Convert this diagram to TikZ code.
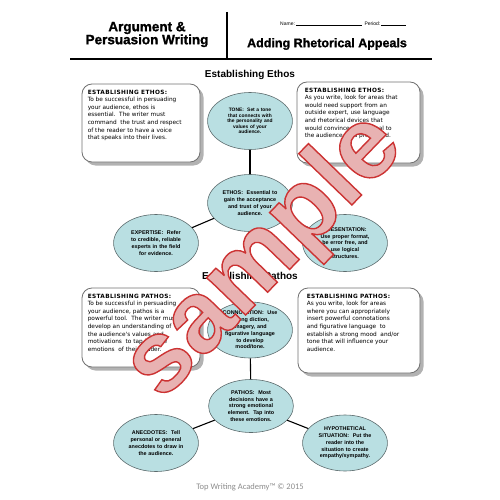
\documentclass[tikz,border=0pt]{standalone}
\usepackage{fontspec}
\setmainfont{Liberation Sans}
\newfontfamily\titlefont[FakeBold=1.2]{Liberation Sans Bold}
\newfontfamily\boxfont{DejaVu Sans}
\newfontfamily\boxheadfont[LetterSpace=6]{DejaVu Sans}
\newfontfamily\footfont{Carlito}
\usepackage{tikz}
\usetikzlibrary{shapes.geometric, shadows, positioning}

\definecolor{bubblefill}{HTML}{B9DFE2}
\definecolor{bubbleline}{HTML}{5C6B6D}
\definecolor{boxline}{HTML}{707070}
\definecolor{markfill}{HTML}{E8B2B2}

% outlined lettering for the watermark
\newcommand\outlineword[1]{\special{pdf:literal direct 2 Tr 0.80 0.20 0.20 RG 1.4 w}#1\special{pdf:literal direct 0 Tr}}

\tikzset{
  bubble/.style={ellipse, draw=bubbleline, fill=bubblefill, line width=0.6pt,
    minimum width=80pt, minimum height=57pt, inner sep=0pt, text width=60pt,
    align=center, font=\bfseries\fontsize{5.4}{6.8}\selectfont},
  infobox/.style={draw=boxline, fill=white, rounded corners=10pt, line width=0.8pt,
    drop shadow={shadow xshift=3.5pt, shadow yshift=-3.5pt, fill=black!30, opacity=1},
    inner sep=0pt},
  infotext/.style={anchor=north west, inner sep=0pt, align=left,
    font=\boxfont\fontsize{5.8}{7.6}\selectfont},
  link/.style={line width=1.1pt},
  sectiontitle/.style={font=\bfseries\fontsize{10}{12}\selectfont}
}

\begin{document}
\begin{tikzpicture}[x=1pt, y=-1pt]
  \useasboundingbox (0,0) rectangle (500,500);

  % header
  \node[font=\titlefont\fontsize{13.5}{13}\selectfont, align=center] (course) at (147,34.5) {Argument \&\\Persuasion Writing};
  \node[font=\titlefont\fontsize{12.5}{14}\selectfont] (lesson) at (327,44) {Adding Rhetorical Appeals};
  \node[anchor=west, inner sep=0pt, font=\fontsize{5}{6}\selectfont] (nameline) at (280,24) {Name:\,\rule{66pt}{0.4pt}\ \ Period:\,\rule{25pt}{0.4pt}};
  \coordinate (ruleL) at (70,59);
  \coordinate (ruleR) at (432,59);
  \coordinate (barT) at (227,12);
  \coordinate (barB) at (227,59);
  \draw[line width=1.8pt] (ruleL) -- (ruleR);
  \draw[line width=1.4pt] (barT) -- (barB);

  % ethos
  \node[sectiontitle] (ethostitle) at (250,75) {Establishing Ethos};
  \node[infobox, minimum width=118pt, minimum height=78pt] (ethosleft) at (141,123) {};
  \node[infotext] (ethoslefttext) at ([xshift=6pt, yshift=-6pt]ethosleft.north west)
    {{\boxheadfont\bfseries ESTABLISHING ETHOS:}\\
     To be successful in persuading\\your audience, ethos is\\essential.\ \ The writer must\\command\ \ the trust and respect\\of the reader to have a voice\\that speaks into their lives.};
  \node[infobox, minimum width=123pt, minimum height=81pt] (ethosright) at (358.5,122.5) {};
  \node[infotext] (ethosrighttext) at ([xshift=8pt, yshift=-6pt]ethosright.north west)
    {{\boxheadfont\bfseries ESTABLISHING ETHOS:}\\
     As you write, look for areas that\\would need support from an\\outside expert, use language\\and rhetorical devices that\\would convince and appeal to\\the audience, and proof-read.};

  \node[bubble, font=\bfseries\fontsize{4.9}{5.4}\selectfont, minimum width=78pt] (tone) at (250,121) {TONE:\ \ Set a tone\\that connects with\\the personality and\\values of your\\audience.};
  \node[bubble] (ethos) at (250,203) {ETHOS:\ \ Essential to\\gain the acceptance\\and trust of your\\audience.};
  \node[bubble, minimum width=82pt] (expertise) at (156,243) {EXPERTISE:\ \ Refer\\to credible, reliable\\experts in the field\\for evidence.};
  \node[bubble] (presentation) at (345,243) {PRESENTATION:\\Use proper format,\\be error free, and\\use logical\\structures.};

  \path[link]
    (tone) edge (ethos)
    (ethos) edge (expertise)
    (ethos) edge (presentation);

  % pathos
  \node[sectiontitle] (pathostitle) at (250,277) {Establishing Pathos};
  \node[infobox, minimum width=118pt, minimum height=79pt] (pathosleft) at (141,327.5) {};
  \node[infotext] (pathoslefttext) at ([xshift=6pt, yshift=-6pt]pathosleft.north west)
    {{\boxheadfont\bfseries ESTABLISHING PATHOS:}\\
     To be successful in persuading\\your audience, pathos is a\\powerful tool.\ \ The writer must\\develop an understanding of\\the audience's values and\\motivations\ \ to tap into the\\emotions\ \ of their reader.};
  \node[infobox, minimum width=122pt, minimum height=85pt] (pathosright) at (359,330.5) {};
  \node[infotext] (pathosrighttext) at ([xshift=9pt, yshift=-6pt]pathosright.north west)
    {{\boxheadfont\bfseries ESTABLISHING PATHOS:}\\
     As you write, look for areas\\where you can appropriately\\insert powerful connotations\\and figurative language\ \ to\\establish a strong mood\ \ and/or\\tone that will influence your\\audience.};

  \node[bubble, minimum height=56pt] (connotation) at (250,330) {CONNOTATION:\ \ Use\\strong diction,\\imagery, and\\figurative language\\to develop\\mood/tone.};
  \node[bubble, minimum height=53pt] (pathos) at (251,406) {PATHOS:\ \ Most\\decisions have a\\strong emotional\\element.\ \ Tap into\\these emotions.};
  \node[bubble, minimum width=81pt] (anecdotes) at (156,443) {ANECDOTES:\ \ Tell\\personal or general\\anecdotes to draw in\\the audience.};
  \node[bubble, minimum width=81pt, minimum height=56pt] (hypothetical) at (345,443) {HYPOTHETICAL\\SITUATION:\ \ Put the\\reader into the\\situation to create\\empathy/sympathy.};

  \path[link]
    (connotation) edge (pathos)
    (pathos) edge (anecdotes)
    (pathos) edge (hypothetical);

  % footer and watermark
  \node[font=\footfont\fontsize{8.5}{10}\selectfont, text=black!45] (credit) at (250,487) {Top Writing Academy™ © 2015};
  \node[rotate=46, inner sep=0pt, text=markfill, font=\bfseries\fontsize{102}{102}\selectfont] (watermark) at (265,257) {\outlineword{sample}};
\end{tikzpicture}
\end{document}
